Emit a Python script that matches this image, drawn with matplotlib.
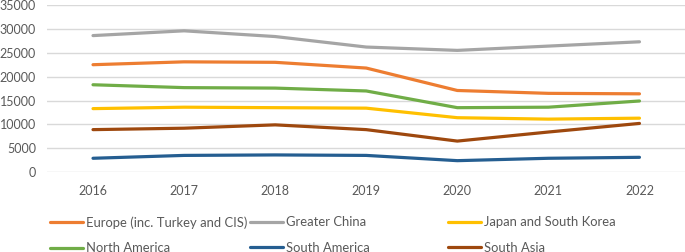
import matplotlib
matplotlib.use("Agg")
import matplotlib.pyplot as plt

years = ["2016", "2017", "2018", "2019", "2020", "2021", "2022"]

europe = [22500, 23100, 23000, 21800, 17100, 16500, 16400]
greater_china = [28600, 29600, 28400, 26200, 25500, 26400, 27300]
japan_korea = [13300, 13600, 13500, 13400, 11400, 11100, 11300]
north_america = [18300, 17700, 17600, 17000, 13500, 13600, 14900]
south_america = [2900, 3500, 3600, 3500, 2400, 2900, 3100]
south_asia = [8900, 9200, 9900, 8900, 6500, 8400, 10200]

series = [
    ("Europe (inc. Turkey and CIS)", europe, "#ED7D31"),
    ("Greater China", greater_china, "#A5A5A5"),
    ("Japan and South Korea", japan_korea, "#FFC000"),
    ("North America", north_america, "#70AD47"),
    ("South America", south_america, "#255E91"),
    ("South Asia", south_asia, "#9E480E"),
]

plt.rcParams['font.family'] = ['Lato', 'DejaVu Sans']
text_color = "#595959"

fig = plt.figure(figsize=(6.85, 2.52), dpi=100)
ax = fig.add_axes([0.0693, 0.317, 0.9307, 0.663])

lines = {}
for name, vals, color in series:
    ln, = ax.plot(years, vals, color=color, lw=2.3, solid_capstyle='round', label=name)
    lines[name] = ln

ax.set_ylim(0, 35000)
ax.set_xlim(-0.5, 6.5)
ax.set_yticks(range(0, 35001, 5000))
ax.grid(axis='y', color='#D9D9D9', lw=1)
ax.set_axisbelow(True)
for s in ax.spines.values():
    s.set_visible(False)
ax.tick_params(length=0, labelsize=9, colors=text_color)
ax.tick_params(axis='y', pad=8.3)
ax.tick_params(axis='x', pad=9)

cols = [
    (["Europe (inc. Turkey and CIS)", "North America"], 0.073),
    (["Greater China", "South America"], 0.365),
    (["Japan and South Korea", "South Asia"], 0.654),
]
for names, x0 in cols:
    leg = fig.legend([lines[n] for n in names], names, loc='upper left',
                     bbox_to_anchor=(x0, 0.141), frameon=False, fontsize=9.4,
                     handlelength=2.55, handletextpad=0.22, labelspacing=1.0,
                     borderaxespad=0, borderpad=0)
    for t in leg.get_texts():
        t.set_color(text_color)

fig.savefig("out.png", dpi=100)
